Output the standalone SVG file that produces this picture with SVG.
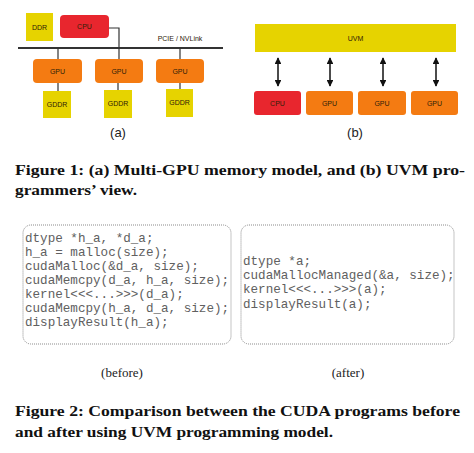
<svg xmlns="http://www.w3.org/2000/svg" width="474" height="453" viewBox="0 0 474 453">
<defs>
<style>
.y{fill:#e6d300}
.r{fill:#e8262e}
.o{fill:#f47b12}
.lbl{font-family:"Liberation Sans","DejaVu Sans",sans-serif;font-size:7px;fill:#2e2008;text-anchor:middle}
.ln{stroke:#333;stroke-width:1.2;fill:none}
.cap{font-family:"Liberation Serif","DejaVu Serif",serif;font-weight:bold;font-size:15px;fill:#111}
.sub{font-family:"Liberation Serif","DejaVu Serif",serif;font-size:13px;fill:#222;text-anchor:middle}
.subs{font-family:"Liberation Sans","DejaVu Sans",sans-serif;font-size:13px;fill:#222;text-anchor:middle}
.code{font-family:"Liberation Mono","DejaVu Sans Mono",monospace;font-size:12.6px;fill:#606060}
.box{fill:#fff;stroke:#8a8a8a;stroke-width:1;stroke-dasharray:1 1}
.arr{stroke:#111;stroke-width:1.5;marker-start:url(#ah);marker-end:url(#ah)}
</style>
<marker id="ah" viewBox="0 0 10 10" refX="9" refY="5" markerWidth="4.5" markerHeight="4.5" orient="auto-start-reverse">
<path d="M0,0 L10,5 L0,10 z" fill="#111"/>
</marker>
</defs>
<rect width="474" height="453" fill="#fff"/>

<g id="connectors">
<line class="ln" x1="18" y1="48" x2="223" y2="48" style="stroke-width:2"/>
<polyline class="ln" points="109,28 119,28 119,59"/>
<line class="ln" x1="58" y1="48" x2="58" y2="59"/>
<line class="ln" x1="180" y1="48" x2="180" y2="59"/>
<line class="ln" x1="58" y1="83" x2="58" y2="91"/>
<line class="ln" x1="118" y1="83" x2="118" y2="90"/>
<line class="ln" x1="180" y1="83" x2="180" y2="89"/>
<line class="arr" x1="278" y1="58" x2="278" y2="86"/>
<line class="arr" x1="330" y1="58" x2="330" y2="86"/>
<line class="arr" x1="383" y1="58" x2="383" y2="86"/>
<line class="arr" x1="436" y1="58" x2="436" y2="86"/>
</g>

<text class="lbl" x="180" y="41">PCIE / NVLink</text>

<g id="ddr"><rect class="y" x="26" y="13" width="27" height="28"/><text class="lbl" x="39.5" y="29.5">DDR</text></g>
<g id="cpu-a"><rect class="r" x="60" y="15" width="49" height="23" rx="4"/><text class="lbl" x="84.5" y="29">CPU</text></g>
<g id="gpu-a1"><rect class="o" x="33" y="59" width="49" height="24" rx="4"/><text class="lbl" x="57.5" y="73.5">GPU</text></g>
<g id="gpu-a2"><rect class="o" x="95" y="59" width="48" height="24" rx="4"/><text class="lbl" x="119" y="73.5">GPU</text></g>
<g id="gpu-a3"><rect class="o" x="156" y="59" width="48" height="24" rx="4"/><text class="lbl" x="180" y="73.5">GPU</text></g>
<g id="gddr1"><rect class="y" x="43" y="91" width="28" height="27"/><text class="lbl" x="57" y="107">GDDR</text></g>
<g id="gddr2"><rect class="y" x="104" y="90" width="28" height="28"/><text class="lbl" x="118" y="106">GDDR</text></g>
<g id="gddr3"><rect class="y" x="166" y="89" width="27" height="28"/><text class="lbl" x="179.5" y="105">GDDR</text></g>
<text class="subs" x="118" y="137">(a)</text>

<g id="uvm"><rect class="y" x="255" y="24" width="201" height="28"/><text class="lbl" x="355.5" y="40.5">UVM</text></g>
<g id="cpu-b"><rect class="r" x="254" y="91" width="47" height="24" rx="3"/><text class="lbl" x="277.5" y="105.5">CPU</text></g>
<g id="gpu-b1"><rect class="o" x="306" y="91" width="47" height="24" rx="3"/><text class="lbl" x="329.5" y="105.5">GPU</text></g>
<g id="gpu-b2"><rect class="o" x="358" y="91" width="48" height="24" rx="3"/><text class="lbl" x="382" y="105.5">GPU</text></g>
<g id="gpu-b3"><rect class="o" x="411" y="91" width="47" height="24" rx="3"/><text class="lbl" x="434.5" y="105.5">GPU</text></g>
<text class="subs" x="355" y="137">(b)</text>

<text class="cap" x="15" y="175" textLength="450" lengthAdjust="spacingAndGlyphs">Figure 1:  (a) Multi-GPU memory model, and (b) UVM pro-</text>
<text class="cap" x="15" y="195" textLength="122" lengthAdjust="spacingAndGlyphs">grammers’ view.</text>

<g id="before">
<rect class="box" x="23" y="225" width="208" height="119" rx="8"/>
<text class="code" x="25" y="242">dtype *h_a, *d_a;</text>
<text class="code" x="25" y="256">h_a = malloc(size);</text>
<text class="code" x="25" y="270">cudaMalloc(&amp;d_a, size);</text>
<text class="code" x="25" y="284">cudaMemcpy(d_a, h_a, size);</text>
<text class="code" x="25" y="298">kernel&lt;&lt;&lt;...&gt;&gt;&gt;(d_a);</text>
<text class="code" x="25" y="312">cudaMemcpy(h_a, d_a, size);</text>
<text class="code" x="25" y="326">displayResult(h_a);</text>
</g>
<text class="sub" x="122" y="377">(before)</text>

<g id="after">
<rect class="box" x="241" y="225" width="213" height="119" rx="8"/>
<text class="code" x="243" y="265">dtype *a;</text>
<text class="code" x="243" y="279">cudaMallocManaged(&amp;a, size);</text>
<text class="code" x="243" y="293">kernel&lt;&lt;&lt;...&gt;&gt;&gt;(a);</text>
<text class="code" x="243" y="308">displayResult(a);</text>
</g>
<text class="sub" x="348" y="377">(after)</text>

<text class="cap" x="15" y="416" textLength="445" lengthAdjust="spacingAndGlyphs">Figure 2: Comparison between the CUDA programs before</text>
<text class="cap" x="15" y="437" textLength="318" lengthAdjust="spacingAndGlyphs">and after using UVM programming model.</text>
</svg>
